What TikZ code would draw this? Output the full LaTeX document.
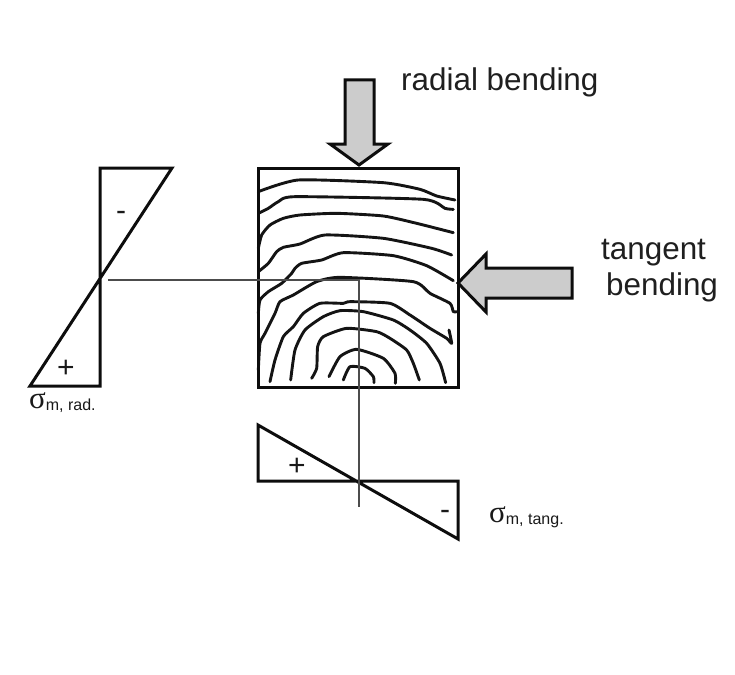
\documentclass[tikz,border=0pt]{standalone}
\usepackage{fontspec}
\setmainfont{Liberation Sans}
\newfontfamily\sigfont{Liberation Serif}
\tikzset{
  outline/.style={draw=black!95,line width=3pt,line join=miter},
  ring/.style={draw=black!92,line width=2.9pt,line cap=round,line join=round,smooth,tension=0.35},
  thinline/.style={draw=black!70,line width=1.2pt},
  bigarrow/.style={draw=black!95,fill=black!20,line width=3pt,line join=miter},
  bigtext/.style={inner sep=0pt,font=\fontsize{31.4}{36}\selectfont,anchor=base west,text=black!88},
  signtext/.style={inner sep=0pt,font=\fontsize{30}{36}\selectfont,text=black!90},
  sigmatext/.style={inner sep=0pt,anchor=base west,text=black!90}
}
\newcommand{\sigmalabel}[1]{{\sigfont\fontsize{31}{36}\selectfont σ}\raisebox{-2.5pt}{\fontsize{16}{18}\selectfont #1}}
\begin{document}
\begin{tikzpicture}[x=1pt,y=-1pt]
\useasboundingbox (0,0) rectangle (735,674);
% arrows
\draw[bigarrow] (345,80)--(374,80)--(374,144)--(388,144)--(359,165)--(330,144)--(345,144)--cycle;
\draw[bigarrow] (458,283)--(486,254)--(486,268)--(572,268)--(572,298)--(486,298)--(486,312)--cycle;
% upper rings
\begin{scope}[shift={(250,160)},x=0.3333pt,y=-0.3333pt]
\draw[ring] plot coordinates {(25,95)(145,60)(400,68)(510,88)(560,108)(615,120)};
\draw[ring] plot coordinates {(25,160)(55,145)(85,125)(135,110)(520,118)(585,145)(610,148)};
\draw[ring] plot coordinates {(25,265)(35,225)(60,195)(100,175)(150,165)(260,160)(400,168)(500,190)(610,218)};
\draw[ring] plot coordinates {(25,335)(55,310)(80,275)(100,262)(150,252)(225,225)(400,235)(545,265)(605,285)};
\end{scope}
% lower rings
\begin{scope}[shift={(250,270)},x=0.3333pt,y=-0.3333pt]
\draw[ring] plot coordinates {(25,130)(30,90)(55,65)(95,40)(125,10)(135,-5)(155,-20)(215,-30)(280,-52)(430,-43)(530,-13)(610,32)};
\draw[ring] plot coordinates {(25,300)(30,220)(45,190)(75,130)(90,95)(130,75)(200,35)(270,22)(490,35)(540,70)(600,100)(610,125)(620,125)};
\draw[ring] plot coordinates {(60,335)(75,270)(100,200)(130,170)(160,130)(210,100)(280,100)(300,95)(420,100)(480,135)(540,175)(590,205)(605,220)(597,180)};
\draw[ring] plot coordinates {(122,330)(135,240)(165,180)(220,140)(270,122)(340,125)(430,150)(480,180)(530,220)(570,280)(587,338)};
\draw[ring] plot coordinates {(185,325)(200,295)(203,230)(220,200)(290,175)(380,185)(420,205)(470,240)(490,280)(508,330)};
\draw[ring] plot coordinates {(237,320)(270,260)(320,238)(400,265)(435,310)(436,340)};
\draw[ring] plot coordinates {(280,330)(300,290)(345,295)(370,320)(372,338)};
\end{scope}
% section
\draw[outline] (258,168) rectangle (458,387);
% stress diagrams
\draw[outline] (100,386)--(100,168)--(172,168)--(30,386)--cycle;
\draw[outline] (358,481)--(258,481)--(258,425)--(458,539)--(458,481)--(358,481);
% axes
\coordinate (axisL) at (108,280);
\coordinate (axisC) at (359,280);
\coordinate (axisB) at (359,507);
\draw[thinline] (axisL)--(axisC)--(axisB);
% labels
\node[bigtext] (radial) at (401,91) {radial bending};
\node[bigtext] (tang) at (601,259) {tangent};
\node[bigtext] (bend) at (606,295) {bending};
\node[signtext] (m1) at (121,216) {-};
\node[signtext] (p1) at (66,369) {+};
\node[signtext] (p2) at (297,467) {+};
\node[signtext] (m2) at (445,515) {-};
\node[sigmatext] (s1) at (29,408) {\sigmalabel{m, rad.}};
\node[sigmatext] (s2) at (489,522) {\sigmalabel{m, tang.}};
\end{tikzpicture}
\end{document}
